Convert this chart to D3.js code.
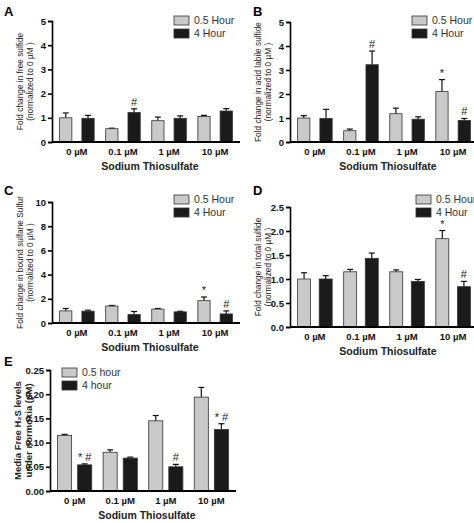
<!DOCTYPE html>
<html><head><meta charset="utf-8">
<script src="https://cdn.jsdelivr.net/npm/d3@7"></script>
<style>body{margin:0;background:#fff}text{font-family:"Liberation Sans",Arial,sans-serif}</style>
</head><body><svg id="c" width="474" height="523"></svg>
<script>
const categories = ["0 µM","0.1 µM","1 µM","10 µM"];
const aHalf = [1.0,0.55,0.88,1.05], aHalfErr=[0.2,0.02,0.15,0.05];
const aFour = [0.98,1.22,0.98,1.28], aFourErr=[0.12,0.15,0.1,0.1];
const bHalf = [1.0,0.47,1.18,2.1], bHalfErr=[0.1,0.07,0.23,0.5];
const bFour = [0.98,3.22,0.95,0.9], bFourErr=[0.38,0.57,0.1,0.08];
const cHalf = [1.0,1.4,1.15,1.85], cHalfErr=[0.2,0.05,0.05,0.3];
const cFour = [0.98,0.7,0.92,0.75], cFourErr=[0.08,0.25,0.05,0.25];
const dHalf = [1.0,1.15,1.15,1.84], dHalfErr=[0.13,0.05,0.04,0.17];
const dFour = [1.0,1.43,0.95,0.84], dFourErr=[0.07,0.11,0.04,0.11];
const eHalf = [0.115,0.08,0.145,0.194], eHalfErr=[0.002,0.005,0.011,0.02];
const eFour = [0.054,0.068,0.05,0.127], eFourErr=[0.002,0.002,0.005,0.012];
const svg = d3.select("#c");

function panel(o){
  const g = svg.append("g");
  const x = d3.scaleBand().domain(categories).range([o.x0+3,o.x1+5]).paddingInner(0.25).paddingOuter(0.1);
  const sub = d3.scaleBand().domain([0,1]).range([0,x.bandwidth()]).paddingInner(o.gap);
  const y = d3.scaleLinear().domain([0,o.max]).range([o.y0,o.yTop]);
  g.append("g").attr("transform",`translate(${o.x0},0)`)
    .call(d3.axisLeft(y).tickValues(o.ticks).tickFormat(o.fmt).tickSize(4).tickPadding(2))
    .call(a=>{a.selectAll("path,line").attr("stroke","#000").attr("stroke-width",1.6);
      a.selectAll("text").attr("font-size",9.5).attr("font-weight","bold").attr("font-family","Liberation Sans,Arial").attr("fill","#111");});
  const series=[[o.half,o.halfErr,"#c9c9c9"],[o.four,o.fourErr,"#1b1b1b"]];
  series.forEach(([v,e,c],si)=>{
    categories.forEach((cat,i)=>{
      const bx=x(cat)+sub(si), w=sub.bandwidth(), cx=bx+w/2;
      g.append("line").attr("x1",cx).attr("x2",cx).attr("y1",y(v[i])).attr("y2",y(v[i]+e[i])).attr("stroke","#111").attr("stroke-width",1.2);
      g.append("line").attr("x1",cx-3).attr("x2",cx+3).attr("y1",y(v[i]+e[i])).attr("y2",y(v[i]+e[i])).attr("stroke","#111").attr("stroke-width",1.2);
      g.append("rect").attr("x",bx).attr("y",y(v[i])).attr("width",w).attr("height",o.y0-y(v[i]))
        .attr("fill",c).attr("stroke","#333").attr("stroke-width",0.8);
      const ann=(o.ann||[]).find(a=>a[0]===si&&a[1]===i);
      if(ann) g.append("text").attr("x",cx).attr("y",y(v[i]+e[i])-3).attr("text-anchor","middle").attr("font-size",11).attr("fill","#222").text(ann[2]);
    });
  });
  g.append("line").attr("x1",o.x0).attr("x2",o.x1+8).attr("y1",o.y0).attr("y2",o.y0).attr("stroke","#000").attr("stroke-width",1.8);
  categories.forEach(cat=>g.append("text").attr("x",x(cat)+x.bandwidth()/2).attr("y",o.y0+13).attr("text-anchor","middle")
    .attr("font-size",9.5).attr("font-weight","bold").attr("fill","#111").text(cat));
  g.append("text").attr("x",(o.x0+o.x1)/2+8).attr("y",o.y0+28).attr("text-anchor","middle").attr("font-size",10.5).attr("font-weight","bold").attr("fill","#222").text("Sodium Thiosulfate");
  g.append("text").attr("x",o.letterX).attr("y",o.letterY).attr("font-size",13).attr("font-weight","bold").text(o.letter);
  const ylab=g.append("text").attr("transform",`translate(${o.x0-29},${(o.y0+o.yTop)/2}) rotate(-90)`).attr("text-anchor","middle")
    .attr("font-size",o.ylSize).attr("font-weight",o.ylWeight).attr("fill","#222");
  o.ylab.forEach((l,k)=>ylab.append("tspan").attr("x",0).attr("y",k*o.ylSize*1.15).text(l));
  o.legend.forEach((t,k)=>{
    g.append("rect").attr("x",o.lx).attr("y",o.ly+k*13-4).attr("width",15).attr("height",9).attr("fill",k?"#1b1b1b":"#c9c9c9").attr("stroke","#333").attr("stroke-width",0.8);
    g.append("text").attr("x",o.lx+20).attr("y",o.ly+k*13+4).attr("font-size",10.5).attr("fill","#333").text(t);
  });
}
const legH=["0.5 Hour","4 Hour"];
panel({letter:"A",letterX:4,letterY:16,x0:52,x1:232,y0:142,yTop:21,max:5,ticks:[0,1,2,3,4,5],fmt:d3.format("d"),half:aHalf,halfErr:aHalfErr,four:aFour,fourErr:aFourErr,gap:0.45,
  ann:[[1,1,"#"]],lx:174,ly:20,legend:legH,ylSize:8.3,ylWeight:"normal",ylab:["Fold change in free sulfide","(normalized to 0 µM )"]});
panel({letter:"B",letterX:253,letterY:16,x0:290,x1:470,y0:142,yTop:22,max:5,ticks:[0,1,2,3,4,5],fmt:d3.format("d"),half:bHalf,halfErr:bHalfErr,four:bFour,fourErr:bFourErr,gap:0.45,
  ann:[[1,1,"#"],[0,3,"*"],[1,3,"#"]],lx:412,ly:20,legend:legH,ylSize:8.3,ylWeight:"normal",ylab:["Fold change in acid labile sulfide","(normalized to 0 µM )"]});
panel({letter:"C",letterX:4,letterY:195,x0:52,x1:232,y0:323,yTop:202,max:10,ticks:[0,2,4,6,8,10],fmt:d3.format("d"),half:cHalf,halfErr:cHalfErr,four:cFour,fourErr:cFourErr,gap:0.45,
  ann:[[0,3,"*"],[1,3,"#"]],lx:174,ly:199,legend:legH,ylSize:8.3,ylWeight:"normal",ylab:["Fold change in bound sulfane Sulfur","(normalized to 0 µM )"]});
panel({letter:"D",letterX:253,letterY:195,x0:290,x1:470,y0:327,yTop:207,max:2.5,ticks:[0,0.5,1,1.5,2,2.5],fmt:d3.format(".1f"),half:dHalf,halfErr:dHalfErr,four:dFour,fourErr:dFourErr,gap:0.4,
  ann:[[0,3,"*"],[1,3,"#"]],lx:416,ly:199,legend:legH,ylSize:8.3,ylWeight:"normal",ylab:["Fold change in total sulfide","(normalized to 0 µM )"]});
panel({letter:"E",letterX:4,letterY:366,x0:50,x1:228,y0:491,yTop:370,max:0.25,ticks:[0,0.05,0.1,0.15,0.2,0.25],fmt:d3.format(".2f"),half:eHalf,halfErr:eHalfErr,four:eFour,fourErr:eFourErr,gap:0.3,
  ann:[[1,0,"* #"],[1,2,"#"],[1,3,"* #"]],lx:62,ly:372,legend:["0.5 hour","4 hour"],ylSize:9.5,ylWeight:"bold",ylab:["Media Free H₂S levels","under normoxia (µM)"]});
</script></body></html>
